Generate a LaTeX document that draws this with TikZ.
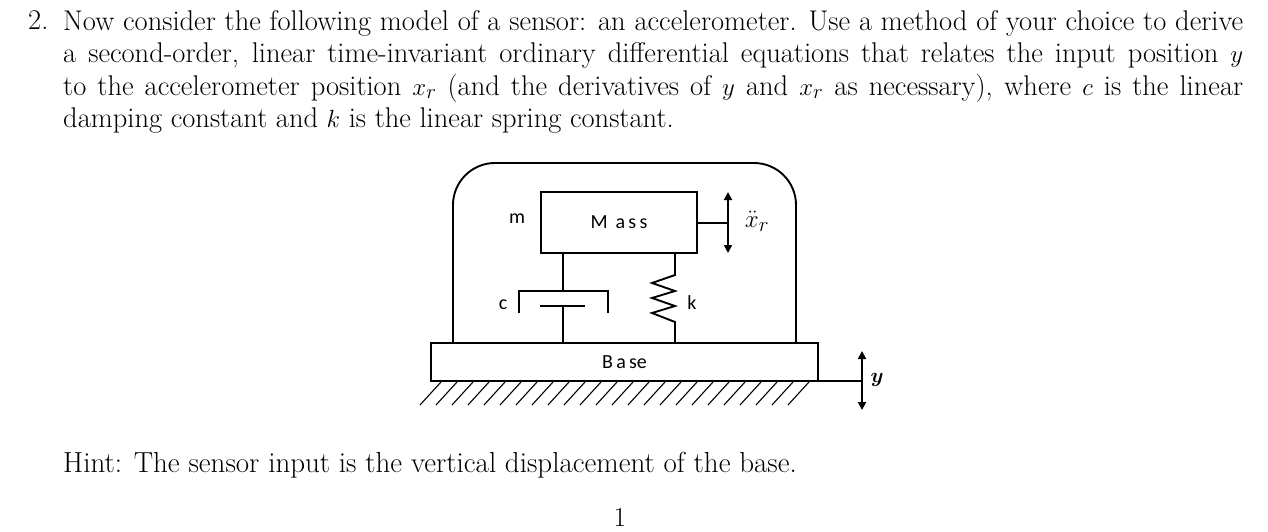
\documentclass[tikz,border=0pt]{standalone}
\usepackage{fontspec}
\setmainfont{Latin Modern Roman}
\newfontfamily\diag{Carlito}
\usepackage{amsmath,bm}
\usetikzlibrary{arrows.meta}
\begin{document}
\begin{tikzpicture}[x=1pt,y=-1pt,
  ln/.style={line width=1.9pt,black},
  lab/.style={font=\diag\fontsize{20}{22}\selectfont,inner sep=0pt},
  arr/.style={ln,{Triangle[length=8pt,width=8pt]}-{Triangle[length=8pt,width=8pt]}}]
\clip (0,0) rectangle (1268,532);
\fill[white] (0,0) rectangle (1268,532);
% text
\node[anchor=north west,inner sep=0pt,font=\fontsize{28.5}{33}\selectfont] (num) at (28,10) {2.};
\node[anchor=north west,inner sep=0pt,text width=1180pt,align=justify,font=\fontsize{28.5}{32.5}\selectfont] (para) at (63,10)
{\parindent=0pt\emergencystretch=20pt Now consider the following model of a sensor: an accelerometer. Use a method of your choice to derive\linebreak
a second-order, linear time-invariant ordinary differential equations that relates the input position $y$\linebreak
to the accelerometer position $x_r$ (and the derivatives of $y$ and $x_r$ as necessary), where $c$ is the linear\linebreak
damping constant and $k$ is the linear spring constant.};
\node[anchor=north west,inner sep=0pt,font=\fontsize{29}{33}\selectfont] (hint) at (63,452) {Hint: The sensor input is the vertical displacement of the base.};
\node[anchor=north,inner sep=0pt,font=\fontsize{27.5}{33}\selectfont] (pg) at (620,508) {1};
% housing
\draw[ln,rounded corners=42pt] (453,343) -- (453,163) -- (796,163) -- (796,343);
% base
\node[draw,ln,minimum width=387pt,minimum height=38pt,inner sep=0pt,lab] (base) at (624.5,362) {B\,a\,se};
\foreach \x in {420,436,...,800} \draw[line width=1.1pt] (\x,405) -- (\x+21,382);
% mass
\node[draw,ln,minimum width=156pt,minimum height=61pt,inner sep=0pt,lab] (mass) at (619,222.5) {M\ \,a\,s\,s};
\node[lab] (m) at (517,219) {m};
% dashpot
\coordinate (d1) at (563,253);
\coordinate (d2) at (563,291);
\draw[ln] (d1) -- (d2);
\draw[ln] (519,313) -- (519,291) -- (608,291) -- (608,313);
\draw[ln] (540,306) -- (585,306);
\draw[ln] (563,306) -- (563,343);
\node[lab] (c) at (503,305) {c};
% spring
\draw[ln] (675,253) -- (675,275) -- (652,283) -- (675,291) -- (652,298) -- (675,306) -- (652,313) -- (675,322) -- (675,343);
\node[lab] (k) at (692,303) {k};
% mass arrow
\coordinate (ma) at (728,223);
\draw[ln] (mass.east |- ma) -- (ma);
\draw[arr] (728,192) -- (728,253);
\node[inner sep=0pt,font=\fontsize{28}{30}\selectfont] (xr) at (757,221) {$\ddot{x}_r$};
% base arrow
\coordinate (be) at (818,381);
\coordinate (ba) at (862,381);
\draw[ln] (be) -- (ba);
\draw[arr] (862,351) -- (862,410);
\node[inner sep=0pt,font=\fontsize{20}{22}\selectfont] (y) at (877,380) {$\bm{y}$};
\end{tikzpicture}
\end{document}
